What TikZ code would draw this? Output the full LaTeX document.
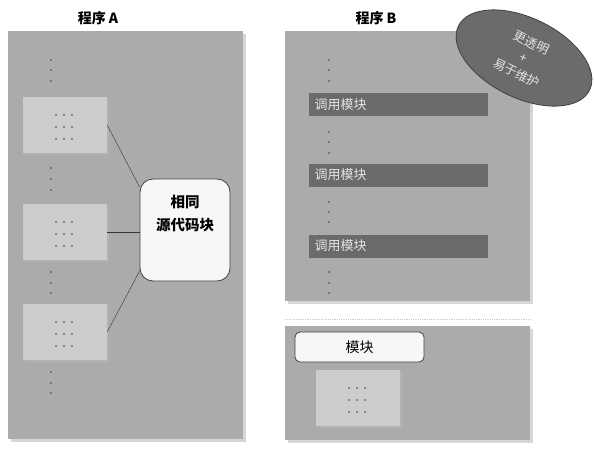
\documentclass[tikz,border=0pt]{standalone}
\usepackage{fontspec}
\setmainfont{Noto Sans CJK SC}
\usetikzlibrary{shapes.geometric,shadows,calc}
\definecolor{prog-gray}{HTML}{ABABAB}
\definecolor{shadow-gray}{HTML}{D6D6D6}
\definecolor{block-gray}{HTML}{CDCDCD}
\definecolor{bar-gray}{HTML}{6B6B6B}
\definecolor{bar-text}{HTML}{E4E4E4}
\tikzset{
    prog-box/.style = {rectangle, fill=prog-gray, inner sep=0pt, drop shadow={shadow xshift=3pt, shadow yshift=-3pt, fill=shadow-gray, opacity=1}},
    code-block/.style = {rectangle, fill=block-gray, inner sep=0pt, minimum width=84pt, minimum height=56pt, drop shadow={shadow xshift=1.5pt, shadow yshift=-1.5pt, fill=gray!60, opacity=1}},
    call-bar/.style = {rectangle, fill=bar-gray, text=bar-text, inner sep=0pt, minimum width=179pt, minimum height=23pt, text width=168pt, align=left, font=\fontsize{13}{15}\selectfont},
    round-box/.style = {draw=black!75, fill=white!97!black, thick, rectangle, rounded corners=13pt, inner sep=0pt},
    title/.style = {font=\fontsize{14}{16}\selectfont\bfseries},
}

\begin{document}
\begin{tikzpicture}[x=1pt, y=-1pt]
\useasboundingbox (0,0) rectangle (594,448);
% titles
\node[title] (title-a) at (98,18) {程序 A};
\node[title] (title-b) at (376,18) {程序 B};
% program A
\node[prog-box, minimum width=235pt, minimum height=408pt] (prog-a) at (125.5,235) {};
\node[code-block] (code-a1) at (65,125) {};
\node[code-block] (code-a2) at (65,232) {};
\node[code-block] (code-a3) at (65,332) {};
\node[round-box, minimum width=90pt, minimum height=102pt, align=center, font=\fontsize{14.5}{23}\selectfont\bfseries] (same-code) at (185,230) {相同\\源代码块\\[12pt]};
\draw[thin, black!80] (code-a1.east) -- ($(same-code.west)+(0,-43)$);
\draw[thin, black!80] (code-a2.east) -- (same-code.west |- code-a2.east);
\draw[thin, black!80] (code-a3.east) -- ($(same-code.west)+(0,41)$);
\foreach \y in {60,70,81, 168,179,190, 272,283,293, 372,383,393}
    \fill[black!75] (51,\y) circle (0.9pt);
% program B
\node[prog-box, minimum width=245pt, minimum height=270pt] (prog-b) at (407.5,166) {};
\node[call-bar] (call-1) at (398.5,104.5) {调用模块};
\node[call-bar] (call-2) at (398.5,175) {调用模块};
\node[call-bar] (call-3) at (398.5,246) {调用模块};
\foreach \y in {60,70,81, 132,142,153, 202,212,222, 272,283,293}
    \fill[black!75] (329,\y) circle (0.9pt);
\node[ellipse, draw=black!75, fill=bar-gray, thick, minimum width=146pt, minimum height=80pt, rotate=-26, inner sep=0pt, text=bar-text, align=center, font=\fontsize{12.5}{17}\selectfont] (benefit) at (524,58) {更透明\\+\\易于维护};
% separator
\coordinate (sep-left) at (285,319);
\coordinate (sep-right) at (530,319);
\draw[gray!40, densely dotted, thick] (sep-left) -- (sep-right);
% module
\node[prog-box, minimum width=245pt, minimum height=114pt] (prog-m) at (407.5,383) {};
\node[round-box, rounded corners=5pt, minimum width=129pt, minimum height=30pt, font=\fontsize{14}{16}\selectfont] (module) at (359.5,347) {模块};
\node[code-block] (code-m) at (358,398) {};
% dots inside code blocks
\foreach \blk in {code-a1,code-a2,code-a3,code-m}
    \foreach \dx in {-9,-1,7}
        \foreach \dy in {-10,2,14}
            \fill[black!75] ($(\blk.center)+(\dx,\dy)$) circle (0.8pt);
\end{tikzpicture}
\end{document}
